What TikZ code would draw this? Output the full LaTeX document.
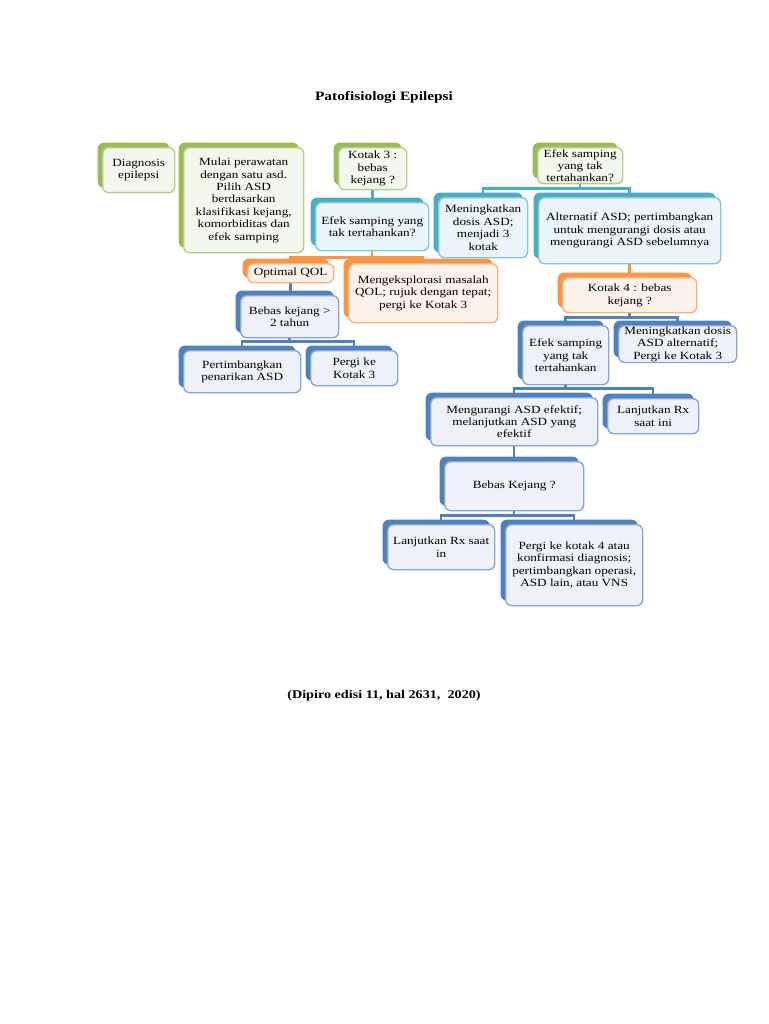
\documentclass[tikz,border=0pt]{standalone}
\usepackage{fontspec}
\setmainfont{Liberation Serif}
\newfontfamily\boxfont{Liberation Serif}[FakeStretch=1.2]
\usetikzlibrary{shadows,backgrounds}

\definecolor{grnback}{HTML}{9BBB59}
\definecolor{grnline}{HTML}{B4CE88}
\definecolor{grnfill}{HTML}{F4F7EE}
\definecolor{aquback}{HTML}{4BACC6}
\definecolor{aquline}{HTML}{86C6D8}
\definecolor{aqufill}{HTML}{EAF5F9}
\definecolor{orgback}{HTML}{F79646}
\definecolor{orgline}{HTML}{F9B27E}
\definecolor{orgfill}{HTML}{FEF3EB}
\definecolor{bluback}{HTML}{4F81BD}
\definecolor{bluline}{HTML}{86A6D4}
\definecolor{blufill}{HTML}{EEF2F8}

\tikzset{
  box/.style={anchor=north west, rounded corners=6pt, line width=1.4pt, align=center, inner sep=1pt,
    font=\boxfont\fontsize{11}{12.4}\selectfont},
  grnbox/.style={box, draw=grnline, fill=grnfill,
    general shadow={fill=grnback, shadow xshift=-5pt, shadow yshift=5pt}},
  aqubox/.style={box, draw=aquline, fill=aqufill,
    general shadow={fill=aquback, shadow xshift=-5pt, shadow yshift=5pt}},
  orgbox/.style={box, draw=orgline, fill=orgfill,
    general shadow={fill=orgback, shadow xshift=-5pt, shadow yshift=5pt}},
  blubox/.style={box, draw=bluline, fill=blufill,
    general shadow={fill=bluback, shadow xshift=-5pt, shadow yshift=5pt}},
  aqulink/.style={draw=aquback, line width=2.5pt},
  orglink/.style={draw=orgback, line width=2.5pt},
  blulink/.style={draw=bluback, line width=2.5pt}
}

\begin{document}
\begin{tikzpicture}[x=1pt, y=-1pt]
\useasboundingbox (0,0) rectangle (768,1024);

\node[font=\boxfont\bfseries\fontsize{12.8}{15}\selectfont] (title) at (384,97) {Patofisiologi Epilepsi};

% left part
\node[grnbox, minimum width=72pt, minimum height=45pt] (diag) at (102,147) {Diagnosis\\epilepsi};
\node[grnbox, minimum width=120pt, minimum height=105pt] (mulai) at (183,147)
  {Mulai perawatan\\dengan satu asd.\\Pilih ASD\\berdasarkan\\klasifikasi kejang,\\komorbiditas dan\\efek samping};
\node[grnbox, minimum width=68pt, minimum height=42pt] (kotak3) at (338,147) {Kotak 3 :\\bebas\\kejang ?};
\node[aqubox, minimum width=113pt, minimum height=48pt] (efekA) at (315,202) {Efek samping yang\\tak tertahankan?};
\node[orgbox, minimum width=86pt, minimum height=19pt] (optqol) at (247,263) {Optimal QOL};
\node[orgbox, minimum width=149pt, minimum height=59pt] (eksplor) at (348,263)
  {Mengeksplorasi masalah\\QOL; rujuk dengan tepat;\\pergi ke Kotak 3};
\node[blubox, minimum width=98pt, minimum height=42pt] (bebas2) at (240,295) {Bebas kejang >\\2 tahun};
\node[blubox, minimum width=117pt, minimum height=42pt] (tarik) at (183,350) {Pertimbangkan\\penarikan ASD};
\node[blubox, minimum width=87pt, minimum height=35pt] (pergi3) at (310,350) {Pergi ke\\Kotak 3};

% right part
\node[grnbox, minimum width=85pt, minimum height=36pt] (efekB) at (537,147) {Efek samping\\yang tak\\tertahankan?};
\node[aqubox, minimum width=89pt, minimum height=60pt] (naik) at (438,197) {Meningkatkan\\dosis ASD;\\menjadi 3\\kotak};
\node[aqubox, minimum width=182pt, minimum height=66pt] (alter) at (538,197)
  {Alternatif ASD; pertimbangkan\\untuk mengurangi dosis atau\\mengurangi ASD sebelumnya};
\node[orgbox, minimum width=134pt, minimum height=35pt] (kotak4) at (562,277) {Kotak 4 : bebas\\kejang ?};
\node[blubox, minimum width=86pt, minimum height=59pt] (efekC) at (522,325) {Efek samping\\yang tak\\tertahankan};
\node[blubox, minimum width=118pt, minimum height=34pt] (naikalt) at (618,325)
  {Meningkatkan dosis\\ASD alternatif;\\Pergi ke Kotak 3};
\node[blubox, minimum width=167pt, minimum height=48pt] (kurang) at (430,397)
  {Mengurangi ASD efektif;\\melanjutkan ASD yang\\efektif};
\node[blubox, minimum width=91pt, minimum height=35pt] (lanjut) at (607,398) {Lanjutkan Rx\\saat ini};
\node[blubox, minimum width=139pt, minimum height=49pt] (bebasK) at (444,461) {Bebas Kejang ?};
\node[blubox, minimum width=107pt, minimum height=45pt] (lanjutin) at (387,524) {Lanjutkan Rx saat\\in};
\node[blubox, minimum width=137pt, minimum height=81pt] (pergi4) at (505,524)
  {Pergi ke kotak 4 atau\\konfirmasi diagnosis;\\pertimbangkan operasi,\\ASD lain, atau VNS};

\node[font=\boxfont\bfseries\fontsize{11.8}{14}\selectfont] (sumber) at (384,696) {(Dipiro edisi 11, hal 2631,~ 2020)};

% connectors
\begin{scope}[on background layer]
\draw[aqulink] (kotak3.south) -- (kotak3.south |- efekA.north);
\draw[orglink] (efekA.south) -- ++(0,6) -| (optqol.north);
\draw[orglink] (efekA.south) -- ++(0,6) -| (eksplor.north);
\draw[blulink] (optqol.south) -- (optqol.south |- bebas2.north);
\draw[blulink] (bebas2.south) -- ++(0,3) -| (tarik.north);
\draw[blulink] (bebas2.south) -- ++(0,3) -| (pergi3.north);
\draw[aqulink] (efekB.south) -- ++(0,4) -| (naik.north);
\draw[aqulink] (efekB.south) -- ++(0,4) -| (alter.north);
\draw[orglink] (alter.south) -- (alter.south |- kotak4.north);
\draw[blulink] (kotak4.south) -- ++(0,4) -| (efekC.north);
\draw[blulink] (kotak4.south) -- ++(0,4) -| (naikalt.north);
\draw[blulink] (efekC.south) -- ++(0,3) -| (kurang.north);
\draw[blulink] (efekC.south) -- ++(0,3) -| (lanjut.north);
\draw[blulink] (kurang.south) -- (kurang.south |- bebasK.north);
\draw[blulink] (bebasK.south) -- ++(0,4) -| (lanjutin.north);
\draw[blulink] (bebasK.south) -- ++(0,4) -| (pergi4.north);
\end{scope}
\end{tikzpicture}
\end{document}
